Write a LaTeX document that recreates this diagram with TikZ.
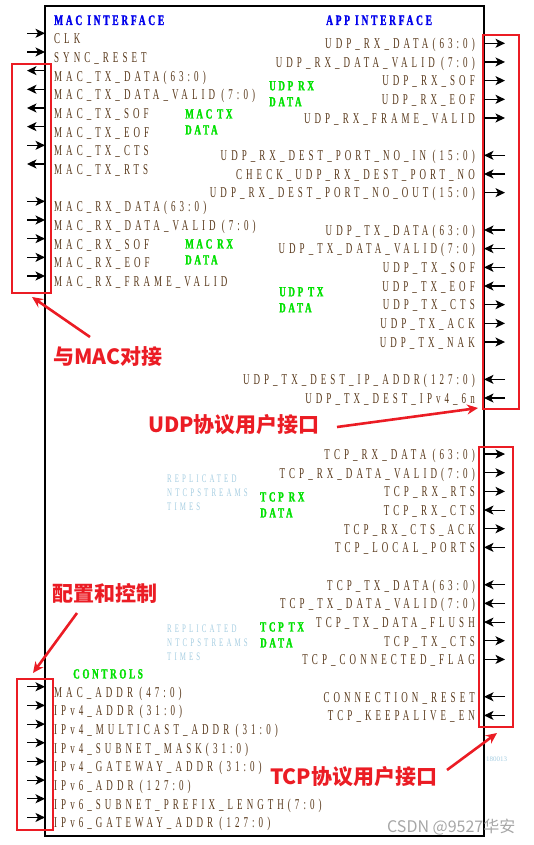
\documentclass[tikz,border=0pt]{standalone}
\usepackage{fontspec}
\setmainfont{Liberation Serif}
\newfontfamily\pinfont[FakeStretch=0.6, LetterSpace=27]{Liberation Serif}
\newfontfamily\headfont[FakeStretch=0.65, LetterSpace=19, BoldFeatures={FakeBold=1.5}]{Liberation Serif}
\newfontfamily\cjk{Noto Sans CJK SC}
\definecolor{pinbrown}{RGB}{88, 56, 26}
\definecolor{hdblue}{RGB}{0, 0, 235}
\definecolor{grpgreen}{RGB}{0, 225, 0}
\definecolor{noteblue}{RGB}{165, 205, 225}
\definecolor{notered}{RGB}{235, 28, 36}
\usetikzlibrary{arrows.meta}

\begin{document}
\begin{tikzpicture}[x=1pt, y=-1pt,
  pinlabel/.style={font=\pinfont\fontsize{15}{18}\selectfont, text=pinbrown, inner sep=0pt},
  pinarrow/.style={line width=1.1pt, -{Stealth[length=9.5pt, width=9pt, inset=2.5pt]}},
  header/.style={font=\headfont\bfseries\fontsize{14.5}{16}\selectfont, text=hdblue, inner sep=0pt},
  group/.style={font=\headfont\bfseries\fontsize{14}{16}\selectfont, text=grpgreen, inner sep=0pt, align=left},
  repnote/.style={font=\pinfont\fontsize{11.5}{14}\selectfont, text=noteblue, inner sep=0pt, align=left},
  hilite/.style={draw=notered, line width=2.2pt},
  callout/.style={font=\cjk\bfseries\fontsize{21}{24}\selectfont, text=notered, inner sep=0pt},
  calloutarrow/.style={notered, line width=2.6pt, -{Stealth[length=11pt, width=10pt]}}]
  \useasboundingbox (0, 0) rectangle (534, 845);

  % core block
  \draw[line width=1.1pt] (45, 6) rectangle (484, 836);
  \node[header, anchor=base west] (macif) at (54, 25) {MAC INTERFACE};
  \node[header, anchor=base west] (appif) at (326, 25) {APP INTERFACE};

  % left side pins (MAC + controls)
  \foreach \i/\txt/\a/\b in {0/CLK/lo/li, 1/SYNC\_RESET/lo/li, 2/MAC\_TX\_DATA(63:0)/li/lo, 3/MAC\_TX\_DATA\_VALID (7:0)/li/lo, 4/MAC\_TX\_SOF/li/lo, 5/MAC\_TX\_EOF/li/lo, 6/MAC\_TX\_CTS/lo/li, 7/MAC\_TX\_RTS/li/lo, 9/MAC\_RX\_DATA(63:0)/lo/li, 10/MAC\_RX\_DATA\_VALID (7:0)/lo/li, 11/MAC\_RX\_SOF/lo/li, 12/MAC\_RX\_EOF/lo/li, 13/MAC\_RX\_FRAME\_VALID/lo/li, 35/MAC\_ADDR (47:0)/lo/li, 36/IPv4\_ADDR (31:0)/lo/li, 37/IPv4\_MULTICAST\_ADDR (31:0)/lo/li, 38/IPv4\_SUBNET\_MASK(31:0)/lo/li, 39/IPv4\_GATEWAY\_ADDR (31:0)/lo/li, 40/IPv6\_ADDR (127:0)/lo/li, 41/IPv6\_SUBNET\_PREFIX\_LENGTH(7:0)/lo/li, 42/IPv6\_GATEWAY\_ADDR (127:0)/lo/li} {
    \coordinate (li\i) at (45, {33.3+18.67*\i});
    \coordinate (lo\i) at (27, {33.3+18.67*\i});
    \node[pinlabel, anchor=base west] (lp\i) at (54, {43.8+18.67*\i}) {\txt};
    \draw[pinarrow] (\a\i) -- (\b\i);
  }

  % right side pins (UDP + TCP user interface)
  \foreach \j/\txt/\a/\b in {0/UDP\_RX\_DATA(63:0)/ri/ro, 1/UDP\_RX\_DATA\_VALID (7:0)/ri/ro, 2/UDP\_RX\_SOF/ri/ro, 3/UDP\_RX\_EOF/ri/ro, 4/UDP\_RX\_FRAME\_VALID/ri/ro, 6/UDP\_RX\_DEST\_PORT\_NO\_IN (15:0)/ro/ri, 7/CHECK\_UDP\_RX\_DEST\_PORT\_NO/ro/ri, 8/UDP\_RX\_DEST\_PORT\_NO\_OUT(15:0)/ri/ro, 10/UDP\_TX\_DATA(63:0)/ro/ri, 11/UDP\_TX\_DATA\_VALID(7:0)/ro/ri, 12/UDP\_TX\_SOF/ro/ri, 13/UDP\_TX\_EOF/ro/ri, 14/UDP\_TX\_CTS/ri/ro, 15/UDP\_TX\_ACK/ri/ro, 16/UDP\_TX\_NAK/ri/ro, 18/UDP\_TX\_DEST\_IP\_ADDR(127:0)/ro/ri, 19/UDP\_TX\_DEST\_IPv4\_6n/ro/ri, 22/TCP\_RX\_DATA (63:0)/ri/ro, 23/TCP\_RX\_DATA\_VALID(7:0)/ri/ro, 24/TCP\_RX\_RTS/ri/ro, 25/TCP\_RX\_CTS/ro/ri, 26/TCP\_RX\_CTS\_ACK/ri/ro, 27/TCP\_LOCAL\_PORTS/ro/ri, 29/TCP\_TX\_DATA(63:0)/ro/ri, 30/TCP\_TX\_DATA\_VALID(7:0)/ro/ri, 31/TCP\_TX\_DATA\_FLUSH/ro/ri, 32/TCP\_TX\_CTS/ri/ro, 33/TCP\_CONNECTED\_FLAG/ri/ro, 35/CONNECTION\_RESET/ro/ri, 36/TCP\_KEEPALIVE\_EN/ro/ri} {
    \coordinate (ri\j) at (484, {43.3+18.67*\j});
    \coordinate (ro\j) at (505, {43.3+18.67*\j});
    \node[pinlabel, anchor=base east] (rp\j) at (475, {48.6+18.67*\j}) {\txt};
    \draw[pinarrow] (\a\j) -- (\b\j);
  }

  % signal group labels
  \node[group, anchor=north west] (mactx) at (185, 109) {MAC TX\\DATA};
  \node[group, anchor=north west] (macrx) at (185, 239) {MAC RX\\DATA};
  \node[group, anchor=north west] (udprx) at (269, 81) {UDP RX\\DATA};
  \node[group, anchor=north west] (udptx) at (279, 287) {UDP TX\\DATA};
  \node[group, anchor=north west] (tcprx) at (260, 492) {TCP RX\\DATA};
  \node[group, anchor=north west] (tcptx) at (260, 622) {TCP TX\\DATA};
  \node[group, anchor=north west] (ctrl) at (73, 669) {CONTROLS};
  \node[repnote, anchor=north west] (rep1) at (167, 475) {REPLICATED\\NTCPSTREAMS\\TIMES};
  \node[repnote, anchor=north west] (rep2) at (167, 625) {REPLICATED\\NTCPSTREAMS\\TIMES};
  \node[font=\fontsize{7}{8}\selectfont, text=noteblue, anchor=west, inner sep=0pt] (figno) at (486, 759) {180013};

  % highlight boxes
  \draw[hilite] (12, 64) rectangle (51, 293);
  \draw[hilite] (483, 35) rectangle (519, 409);
  \draw[hilite] (479, 447) rectangle (513, 727);
  \draw[hilite] (17, 679) rectangle (53, 830);

  % callouts
  \node[callout, anchor=west] (macnote) at (53, 357) {与MAC对接};
  \node[callout, anchor=west] (udpnote) at (148, 425) {UDP协议用户接口};
  \node[callout, anchor=west] (cfgnote) at (52, 593) {配置和控制};
  \node[callout, anchor=west] (tcpnote) at (270, 777) {TCP协议用户接口};
  \coordinate (macfrom) at (90, 337);  \coordinate (macto) at (32, 297);
  \coordinate (udpfrom) at (337, 427); \coordinate (udpto) at (478, 408);
  \coordinate (cfgfrom) at (77, 613);  \coordinate (cfgto) at (33, 673);
  \coordinate (tcpfrom) at (447, 770); \coordinate (tcpto) at (497, 733);
  \draw[calloutarrow] (macfrom) -- (macto);
  \draw[calloutarrow] (udpfrom) -- (udpto);
  \draw[calloutarrow] (cfgfrom) -- (cfgto);
  \draw[calloutarrow] (tcpfrom) -- (tcpto);

  \node[font=\cjk\fontsize{16}{18}\selectfont, text=black!35, anchor=west, inner sep=0pt] (mark) at (387, 827) {CSDN @9527华安};
\end{tikzpicture}
\end{document}
